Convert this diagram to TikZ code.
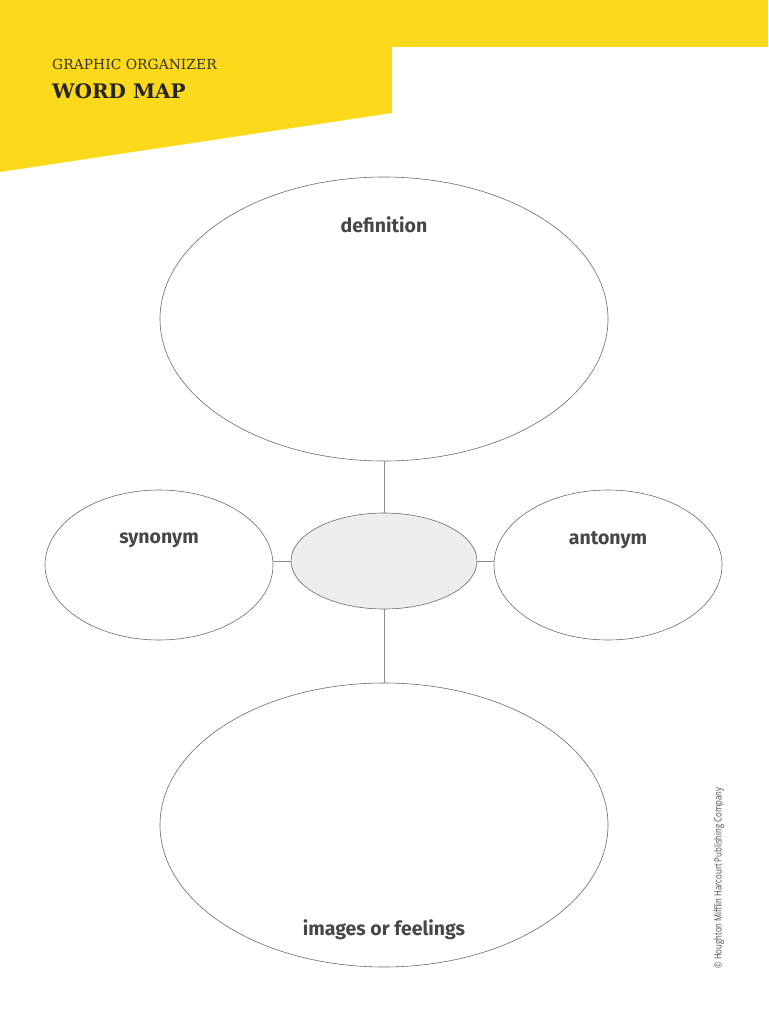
\documentclass[tikz,border=0pt]{standalone}
\usepackage{fontspec}
\setsansfont{Fira Sans}
\newfontfamily\slabfont{DejaVu Serif}
\newfontfamily\narrowfont[FakeStretch=0.78]{Open Sans}
\usetikzlibrary{shapes.geometric,positioning}
\definecolor{bandyellow}{HTML}{FDD91C}
\definecolor{inkgray}{HTML}{474747}
\definecolor{rimgray}{HTML}{6A6A6A}
\definecolor{stemgray}{HTML}{8C8C8C}
\definecolor{hubfill}{HTML}{EDEDED}
\tikzset{
  bubble/.style={ellipse, draw=rimgray, line width=0.6pt, inner sep=0pt},
  stem/.style={draw=stemgray, line width=1pt},
  lbl/.style={font=\sffamily\bfseries\fontsize{19.5}{22}\selectfont, text=inkgray, inner sep=0pt}
}
\begin{document}
\begin{tikzpicture}[x=1pt,y=-1pt]
\useasboundingbox (0,0) rectangle (768,1024);

\fill [bandyellow] (0,0) -- (768,0) -- (768,47) -- (392,47) -- (392,113) -- (0,172) -- cycle;
\node [anchor=base west, inner sep=0pt, font=\slabfont\fontsize{13.9}{16}\selectfont, text=black!80] (kind) at (52,70) {GRAPHIC ORGANIZER};
\node [anchor=base west, inner sep=0pt, font=\slabfont\bfseries\fontsize{20}{22}\selectfont, text=black!85] (title) at (52,99) {WORD MAP};

\node [bubble, minimum width=448pt, minimum height=284pt] (def) at (384,319) {};
\node [bubble, minimum width=228pt, minimum height=150pt] (syn) at (159,565) {};
\node [bubble, minimum width=228pt, minimum height=150pt] (ant) at (608,565) {};
\node [bubble, fill=hubfill, minimum width=186pt, minimum height=96pt] (hub) at (384,561) {};
\node [bubble, minimum width=448pt, minimum height=284pt] (img) at (384,825) {};

\draw [stem] (def.south) -- (hub.north);
\draw [stem] (hub.south) -- (img.north);
\draw [stem] (hub.west) -- (hub.west -| syn.east);
\draw [stem] (hub.east) -- (hub.east -| ant.west);

\node [lbl] (deflbl) at (384,225) {definition};
\node [lbl] (synlbl) at (159,540) {synonym};
\node [lbl] (antlbl) at (608,540) {antonym};
\node [lbl] (imglbl) at (384,930) {images or feelings};

\node [rotate=90, inner sep=0pt, font=\narrowfont\fontsize{10}{12}\selectfont, text=inkgray] (copy) at (719,878) {\textcopyright\ Houghton Mifflin Harcourt Publishing Company};

\end{tikzpicture}
\end{document}
